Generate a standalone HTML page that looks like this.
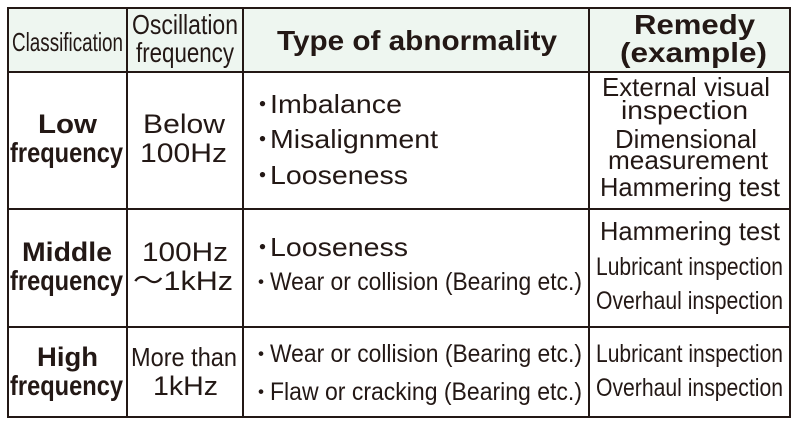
<!DOCTYPE html>
<html><head><meta charset="utf-8"><style>
html,body{margin:0;padding:0;background:#fff;}
svg{display:block;}
text{font-family:"Liberation Sans",sans-serif;fill:#231815;}
.b{font-weight:bold;}
</style></head><body>
<svg width="800" height="426" viewBox="0 0 800 426" xmlns="http://www.w3.org/2000/svg">
<rect x="0" y="0" width="800" height="426" fill="#fff"/>
<rect x="8" y="8" width="782" height="64" fill="#eef6f0"/>
<g stroke="#231815" stroke-width="2" fill="none">
<rect x="8" y="8" width="782" height="409"/>
<line x1="8" y1="72" x2="790" y2="72"/>
<line x1="8" y1="209" x2="790" y2="209"/>
<line x1="8" y1="327" x2="790" y2="327"/>
<line x1="127" y1="8" x2="127" y2="417"/>
<line x1="243" y1="8" x2="243" y2="417"/>
<line x1="589" y1="8" x2="589" y2="417"/>
</g>
<!-- header -->
<text x="12" y="51" font-size="26" textLength="111" lengthAdjust="spacingAndGlyphs">Classification</text>
<text x="132" y="34" font-size="28" textLength="106" lengthAdjust="spacingAndGlyphs">Oscillation</text>
<text x="136" y="62" font-size="28" textLength="98" lengthAdjust="spacingAndGlyphs">frequency</text>
<text class="b" x="277" y="50" font-size="28" textLength="280" lengthAdjust="spacingAndGlyphs">Type of abnormality</text>
<text class="b" x="634" y="34" font-size="28" textLength="121" lengthAdjust="spacingAndGlyphs">Remedy</text>
<text class="b" x="620" y="62" font-size="28" textLength="147" lengthAdjust="spacingAndGlyphs">(example)</text>
<!-- row1 -->
<text class="b" x="38" y="133" font-size="27" textLength="59" lengthAdjust="spacingAndGlyphs">Low</text>
<text class="b" x="10" y="162" font-size="28" textLength="113" lengthAdjust="spacingAndGlyphs">frequency</text>
<text x="143" y="133" font-size="27" textLength="82" lengthAdjust="spacingAndGlyphs">Below</text>
<text x="140" y="162" font-size="27" textLength="87" lengthAdjust="spacingAndGlyphs">100Hz</text>
<text x="250" y="113" font-size="25">・</text>
<text x="270" y="113" font-size="26" textLength="132" lengthAdjust="spacingAndGlyphs">Imbalance</text>
<text x="250" y="148" font-size="25">・</text>
<text x="270" y="148" font-size="26" textLength="168" lengthAdjust="spacingAndGlyphs">Misalignment</text>
<text x="250" y="184" font-size="25">・</text>
<text x="270" y="184" font-size="26" textLength="138" lengthAdjust="spacingAndGlyphs">Looseness</text>
<text x="602" y="96" font-size="26" textLength="168" lengthAdjust="spacingAndGlyphs">External visual</text>
<text x="621" y="119" font-size="26" textLength="127" lengthAdjust="spacingAndGlyphs">inspection</text>
<text x="615" y="148" font-size="26" textLength="142" lengthAdjust="spacingAndGlyphs">Dimensional</text>
<text x="608" y="169" font-size="26" textLength="160" lengthAdjust="spacingAndGlyphs">measurement</text>
<text x="600" y="196" font-size="26" textLength="180" lengthAdjust="spacingAndGlyphs">Hammering test</text>
<!-- row2 -->
<text class="b" x="22" y="261" font-size="27" textLength="90" lengthAdjust="spacingAndGlyphs">Middle</text>
<text class="b" x="10" y="290" font-size="28" textLength="113" lengthAdjust="spacingAndGlyphs">frequency</text>
<text x="142" y="261" font-size="27" textLength="86" lengthAdjust="spacingAndGlyphs">100Hz</text>
<text x="133" y="290" font-size="27" textLength="100" lengthAdjust="spacingAndGlyphs">～1kHz</text>
<text x="250" y="256" font-size="25">・</text>
<text x="270" y="256" font-size="26" textLength="138" lengthAdjust="spacingAndGlyphs">Looseness</text>
<text x="250" y="290" font-size="22">・</text>
<text x="270" y="290" font-size="25" textLength="312" lengthAdjust="spacingAndGlyphs">Wear or collision (Bearing etc.)</text>
<text x="600" y="240" font-size="26" textLength="180" lengthAdjust="spacingAndGlyphs">Hammering test</text>
<text x="596" y="275" font-size="25" textLength="187" lengthAdjust="spacingAndGlyphs">Lubricant inspection</text>
<text x="596" y="309" font-size="25" textLength="187" lengthAdjust="spacingAndGlyphs">Overhaul inspection</text>
<!-- row3 -->
<text class="b" x="37" y="366" font-size="27" textLength="61" lengthAdjust="spacingAndGlyphs">High</text>
<text class="b" x="10" y="395" font-size="28" textLength="113" lengthAdjust="spacingAndGlyphs">frequency</text>
<text x="131" y="366" font-size="26" textLength="106" lengthAdjust="spacingAndGlyphs">More than</text>
<text x="153" y="395" font-size="27" textLength="65" lengthAdjust="spacingAndGlyphs">1kHz</text>
<text x="250" y="362" font-size="22">・</text>
<text x="270" y="362" font-size="25" textLength="312" lengthAdjust="spacingAndGlyphs">Wear or collision (Bearing etc.)</text>
<text x="250" y="400" font-size="22">・</text>
<text x="270" y="400" font-size="25" textLength="312" lengthAdjust="spacingAndGlyphs">Flaw or cracking (Bearing etc.)</text>
<text x="596" y="362" font-size="25" textLength="187" lengthAdjust="spacingAndGlyphs">Lubricant inspection</text>
<text x="596" y="396" font-size="25" textLength="187" lengthAdjust="spacingAndGlyphs">Overhaul inspection</text>
</svg>
</body></html>
